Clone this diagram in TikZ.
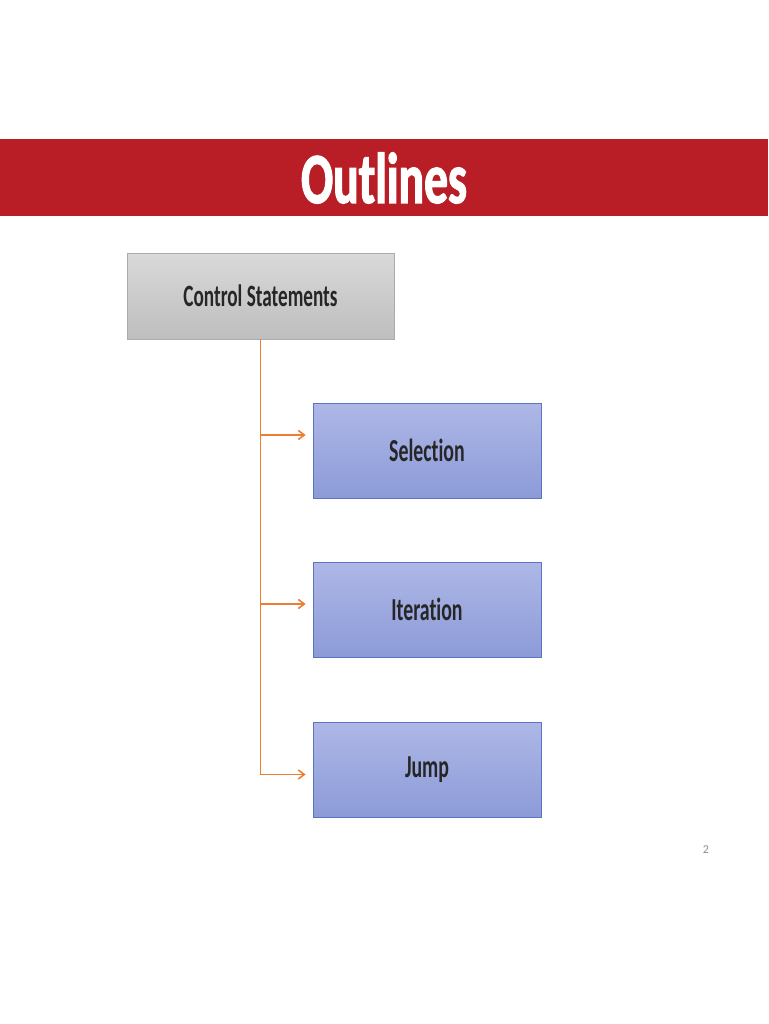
\documentclass[tikz,border=0pt]{standalone}
\usepackage{fontspec}
\setmainfont{Carlito}
\newfontfamily\slidefont[FakeStretch=0.62, Ligatures=NoCommon]{Carlito}
\newfontfamily\titlefont[FakeStretch=0.66, FakeBold=1.6, Ligatures=NoCommon]{Carlito}
\usetikzlibrary{arrows.meta}

\definecolor{bannerred}{HTML}{B91D25}
\definecolor{branchorange}{HTML}{ED7D31}
\definecolor{bluetop}{HTML}{AEB7E6}
\definecolor{bluebot}{HTML}{8C9BD8}
\definecolor{blueedge}{HTML}{5B73C4}
\definecolor{graytop}{HTML}{D9D9D9}
\definecolor{graybot}{HTML}{BEBEBE}
\definecolor{grayedge}{HTML}{ABABAB}

\begin{document}
\begin{tikzpicture}[x=1pt, y=-1pt,
  every node/.style={font=\slidefont\bfseries},
  outerbox/.style={draw=grayedge, line width=0.8pt, top color=graytop, bottom color=graybot,
    minimum width=267pt, minimum height=86pt, inner sep=0pt, text=black!85,
    font=\slidefont\bfseries\fontsize{31}{31}\selectfont},
  kindbox/.style={draw=blueedge, line width=0.8pt, top color=bluetop, bottom color=bluebot,
    minimum width=228pt, minimum height=95pt, inner sep=0pt, text=black!85,
    font=\slidefont\bfseries\fontsize{32}{32}\selectfont},
  trunk/.style={branchorange, line width=1.6pt},
  branch/.style={branchorange, line width=1.6pt, -{Straight Barb[length=6pt,width=9pt]}, shorten >=7pt}]

\useasboundingbox (0,0) rectangle (768,1024);

% --------- Title banner ----------
\fill[bannerred] (0,139) rectangle (768,216);
\node[text=white, font=\titlefont\bfseries\fontsize{72}{72}\selectfont] (title) at (384,178) {Outlines};

% --------- Boxes ----------
\node[outerbox] (ctrl) at (260.5,296) {Control Statements};

\node[kindbox] (sel)  at (427,450.5) {Selection};
\node[kindbox] (iter) at (427,609.5) {Iteration};
\node[kindbox] (jump) at (427,769.5) {Jump};

% --------- Branch connectors ----------
\coordinate (selin)  at ([yshift=15.5pt]sel.west);
\coordinate (iterin) at ([yshift=5.5pt]iter.west);
\coordinate (jumpin) at ([yshift=-5pt]jump.west);

\draw[trunk] (ctrl.south) -- (ctrl.south |- jumpin);
\draw[branch] (ctrl.south |- selin)  -- (selin);
\draw[branch] (ctrl.south |- iterin) -- (iterin);
\draw[branch] (ctrl.south |- jumpin) -- (jumpin);

% --------- Page number ----------
\node[font=\fontsize{12}{12}\selectfont, text=black!45] (pg) at (706,850) {2};

\end{tikzpicture}
\end{document}
